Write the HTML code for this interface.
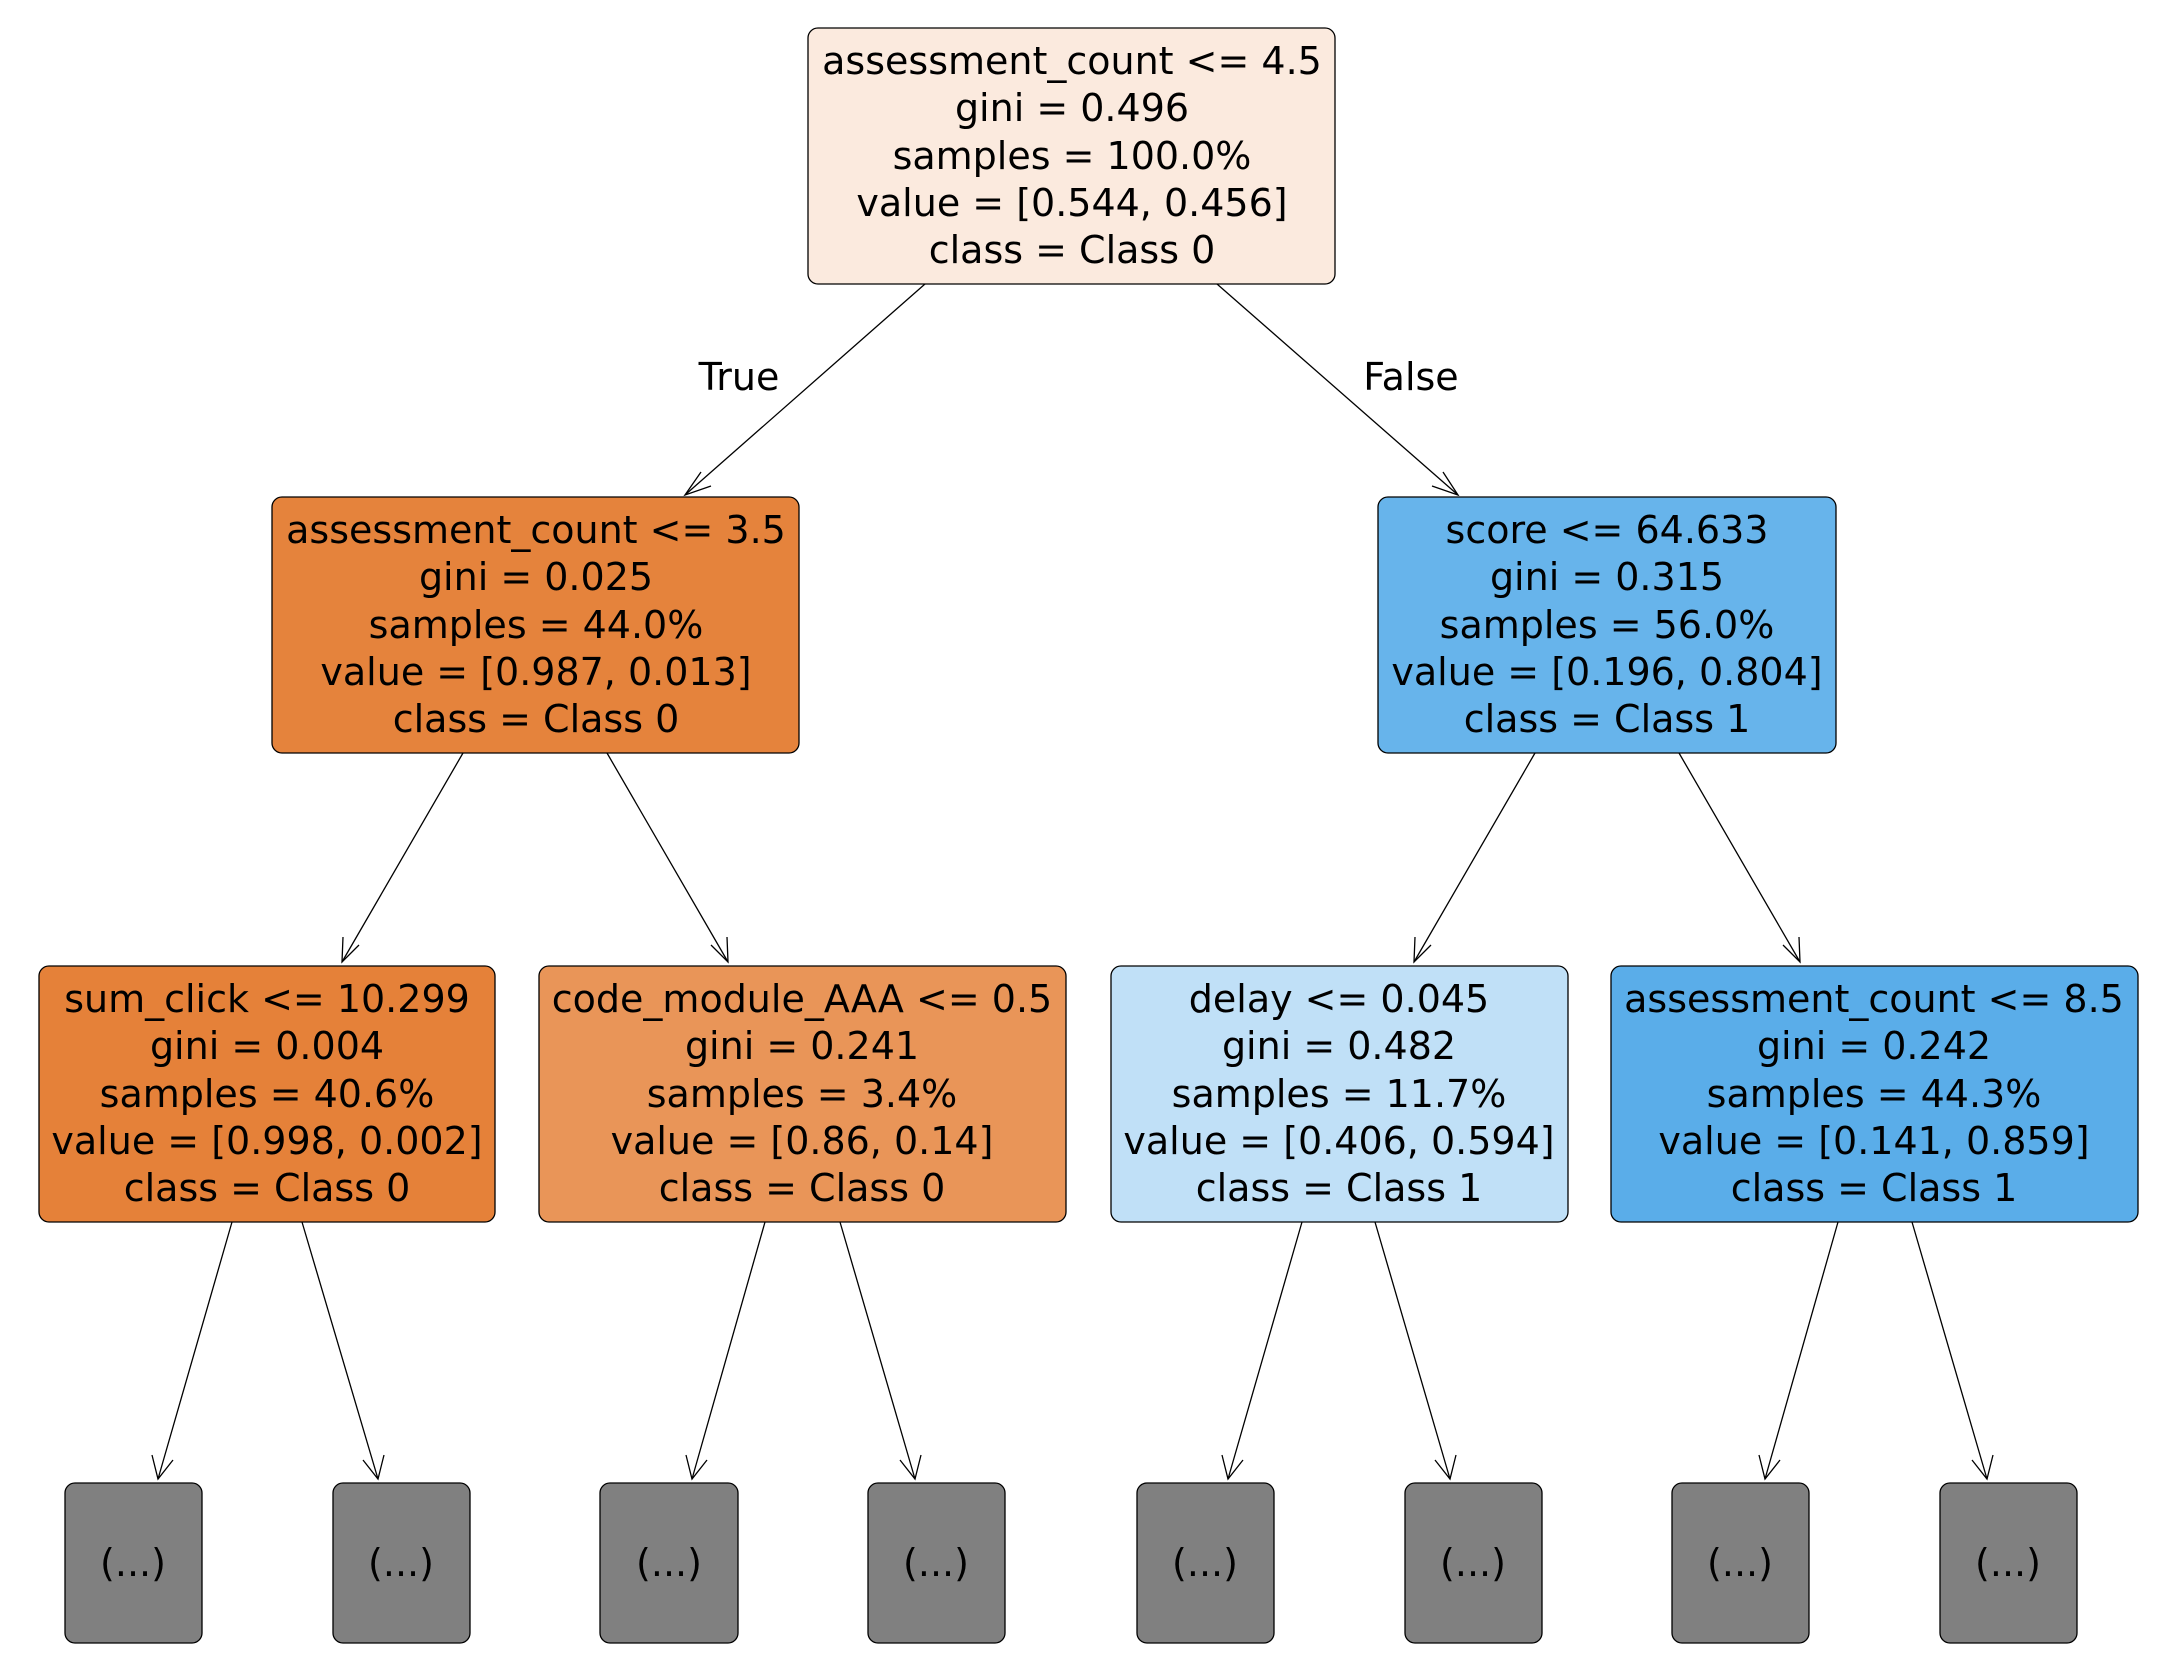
<!DOCTYPE html>
<html><head><meta charset="utf-8"><style>
html,body{margin:0;padding:0;background:#fff;}
svg{display:block;}
text{font-family:"DejaVu Sans","Liberation Sans",sans-serif;font-size:38px;fill:#000;text-anchor:middle;dominant-baseline:central;}
</style></head><body>
<svg width="2174" height="1680" viewBox="0 0 2174 1680" xmlns="http://www.w3.org/2000/svg">
<g stroke="#000" stroke-width="1.3" fill="none">
<line x1="925" y1="284" x2="685" y2="495"/>
<line x1="1217" y1="284" x2="1458" y2="495"/>
<line x1="463" y1="753" x2="342" y2="962"/>
<line x1="607" y1="753" x2="728" y2="962"/>
<line x1="1535" y1="753" x2="1414" y2="962"/>
<line x1="1679" y1="753" x2="1800" y2="962"/>
<line x1="232" y1="1222" x2="158" y2="1479"/>
<line x1="302" y1="1222" x2="378" y2="1479"/>
<line x1="765" y1="1222" x2="692" y2="1479"/>
<line x1="840" y1="1222" x2="915" y2="1479"/>
<line x1="1302" y1="1222" x2="1228" y2="1479"/>
<line x1="1375" y1="1222" x2="1450" y2="1479"/>
<line x1="1838" y1="1222" x2="1765" y2="1479"/>
<line x1="1912" y1="1222" x2="1987" y2="1479"/>
<!-- arrowheads -->
<polyline points="701,472 685,495 711,486"/>
<polyline points="1432,486 1458,495 1443,472"/>
<polyline points="343,937 342,962 359,945"/>
<polyline points="711,945 728,962 727,937"/>
<polyline points="1415,937 1414,962 1431,945"/>
<polyline points="1783,945 1800,962 1799,937"/>
<polyline points="152,1455 158,1479 173,1460"/>
<polyline points="363,1460 378,1479 384,1455"/>
<polyline points="686,1455 692,1479 707,1460"/>
<polyline points="900,1460 915,1479 921,1455"/>
<polyline points="1222,1455 1228,1479 1243,1460"/>
<polyline points="1435,1460 1450,1479 1456,1455"/>
<polyline points="1759,1455 1765,1479 1780,1460"/>
<polyline points="1972,1460 1987,1479 1993,1455"/>
</g>
<g stroke="#000" stroke-width="1.3">
<rect x="808" y="28" width="527" height="256" rx="10" fill="#fbeade"/>
<rect x="272" y="497" width="527" height="256" rx="10" fill="#e5833c"/>
<rect x="1378" y="497" width="458" height="256" rx="10" fill="#67b4eb"/>
<rect x="39" y="966" width="456" height="256" rx="10" fill="#e58139"/>
<rect x="539" y="966" width="527" height="256" rx="10" fill="#e99558"/>
<rect x="1111" y="966" width="457" height="256" rx="10" fill="#c0e0f7"/>
<rect x="1611" y="966" width="527" height="256" rx="10" fill="#5aade9"/>
<g fill="#808080">
<rect x="65" y="1483" width="137" height="160" rx="10"/>
<rect x="333" y="1483" width="137" height="160" rx="10"/>
<rect x="600" y="1483" width="138" height="160" rx="10"/>
<rect x="868" y="1483" width="137" height="160" rx="10"/>
<rect x="1137" y="1483" width="137" height="160" rx="10"/>
<rect x="1405" y="1483" width="137" height="160" rx="10"/>
<rect x="1672" y="1483" width="137" height="160" rx="10"/>
<rect x="1940" y="1483" width="137" height="160" rx="10"/>
</g>
</g>
<text x="1072" y="61">assessment_count &lt;= 4.5</text>
<text x="1072" y="108">gini = 0.496</text>
<text x="1072" y="156">samples = 100.0%</text>
<text x="1072" y="203">value = [0.544, 0.456]</text>
<text x="1072" y="250">class = Class 0</text>

<text x="739" y="377">True</text>
<text x="1411" y="377">False</text>

<text x="536" y="530">assessment_count &lt;= 3.5</text>
<text x="536" y="577">gini = 0.025</text>
<text x="536" y="625">samples = 44.0%</text>
<text x="536" y="672">value = [0.987, 0.013]</text>
<text x="536" y="719">class = Class 0</text>

<text x="1607" y="530">score &lt;= 64.633</text>
<text x="1607" y="577">gini = 0.315</text>
<text x="1607" y="625">samples = 56.0%</text>
<text x="1607" y="672">value = [0.196, 0.804]</text>
<text x="1607" y="719">class = Class 1</text>

<text x="267" y="999">sum_click &lt;= 10.299</text>
<text x="267" y="1046">gini = 0.004</text>
<text x="267" y="1094">samples = 40.6%</text>
<text x="267" y="1141">value = [0.998, 0.002]</text>
<text x="267" y="1188">class = Class 0</text>

<text x="802" y="999">code_module_AAA &lt;= 0.5</text>
<text x="802" y="1046">gini = 0.241</text>
<text x="802" y="1094">samples = 3.4%</text>
<text x="802" y="1141">value = [0.86, 0.14]</text>
<text x="802" y="1188">class = Class 0</text>

<text x="1339" y="999">delay &lt;= 0.045</text>
<text x="1339" y="1046">gini = 0.482</text>
<text x="1339" y="1094">samples = 11.7%</text>
<text x="1339" y="1141">value = [0.406, 0.594]</text>
<text x="1339" y="1188">class = Class 1</text>

<text x="1874" y="999">assessment_count &lt;= 8.5</text>
<text x="1874" y="1046">gini = 0.242</text>
<text x="1874" y="1094">samples = 44.3%</text>
<text x="1874" y="1141">value = [0.141, 0.859]</text>
<text x="1874" y="1188">class = Class 1</text>

<text x="133" y="1563">(...)</text>
<text x="401" y="1563">(...)</text>
<text x="669" y="1563">(...)</text>
<text x="936" y="1563">(...)</text>
<text x="1205" y="1563">(...)</text>
<text x="1473" y="1563">(...)</text>
<text x="1740" y="1563">(...)</text>
<text x="2008" y="1563">(...)</text>
</svg>
</body></html>
